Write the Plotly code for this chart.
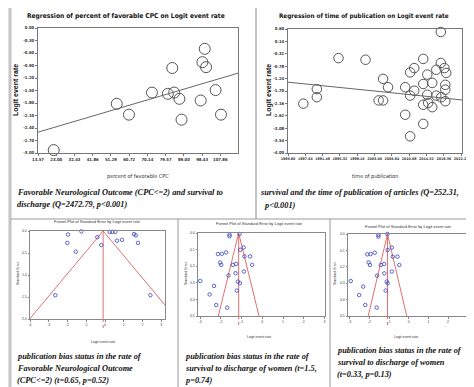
import plotly.graph_objects as go

W, H = 474, 387

# ---------------- data ----------------
# Top-left: regression of percent of favorable CPC on logit event rate
cpc_ticks = [13.57, 23.00, 32.43, 41.86, 51.29, 60.72, 70.14, 79.57, 89.00, 98.43, 107.86]
cpc_logit_ticks = [0.00, -0.30, -0.60, -0.90, -1.20, -1.50, -1.80, -2.10, -2.40, -2.70, -3.00]
cpc_x = [21.7, 54.3, 60.6, 72.5, 80.7, 84.0, 83.0, 86.7, 87.8, 97.7, 98.6, 99.8, 100.5, 105.4, 108.2]
cpc_y = [-2.93, -1.82, -2.08, -1.55, -1.58, -1.55, -0.96, -1.70, -2.20, -1.74, -0.82, -0.50, -0.94, -1.49, -2.08]
cpc_slope, cpc_intercept = 0.01369, -2.686
cpc_range = [13.57, 117.0]

# Top-right: regression of time of publication on logit event rate
year_ticks = [1983.80, 1987.64, 1991.48, 1995.32, 1999.16, 2003.00, 2006.84, 2010.68, 2014.52, 2018.36, 2022.20]
year_logit_ticks = [0.60, 0.14, -0.32, -0.78, -1.24, -1.70, -2.16, -2.62, -3.08, -3.54, -4.00]
pub_year = [1987.2, 1990.2, 1990.2, 1995.0, 2001.0, 2003.9, 2004.9, 2004.9, 2006.0, 2009.8,
            2009.8, 2010.9, 2010.9, 2010.9, 2011.8, 2011.8, 2013.8, 2013.8, 2013.8, 2013.8,
            2014.7, 2014.7, 2014.9, 2015.8, 2015.8, 2016.7, 2016.7, 2017.7, 2017.7, 2017.8,
            2018.5, 2018.7, 2018.7, 2018.9, 2018.7]
pub_logit = [-2.17, -1.63, -1.93, -0.48, -0.54, -2.05, -2.05, -1.25, -1.56, -1.56,
             -2.58, -1.01, -1.87, -3.38, -0.85, -1.69, -0.51, -1.44, -2.21, -2.92,
             -1.09, -1.84, -2.14, -1.40, -2.30, -0.91, -1.87, 0.49, -0.66, -1.93,
             -0.85, -1.47, -2.08, -1.03, -1.65]
year_slope, year_intercept = -0.0171, 32.55
year_range = [1983.8, 2022.4]

# Funnel 1: favorable neurological outcome
f1_ticks_x = [-4, -3, -2, -1, 0, 1, 2, 3]
f1_ticks_y = [0.0, 0.5, 1.0, 1.5, 2.0]
f1_x = [-1.97, -1.26, -2.01, -1.56, -0.41, -0.20, 0.25, 0.39, 0.55, 0.64, 0.91, 1.55, 1.64, 1.76, -2.65, 2.42]
f1_se = [0.08, 0.01, 0.27, 0.47, 0.14, 0.32, 0.02, 0.02, 0.02, 0.22, 0.20, 0.07, 0.10, 0.27, 1.46, 1.46]
f1_mean, f1_semax = -0.1, 2.0
f1_xrange = [-4.0, 3.2]

# Funnel 2: survival to discharge of women
f2_ticks_x = [-3, -2, -1, 0, 1, 2, 3]
f2_ticks_y = [0.0, 0.1, 0.2, 0.3, 0.4, 0.5]
f2_x = [-2.99, -2.33, -2.54, -2.22, -1.69, -2.14, -1.95, -1.74, -2.03, -1.98, -1.58, -1.58, -1.42,
        -1.26, -1.63, -1.29, -1.18, -1.23, -1.08, -1.10, -1.07, -0.90, -0.86, -0.59, -0.89, -0.49]
f2_se = [0.289, 0.319, 0.370, 0.434, 0.450, 0.127, 0.125, 0.117, 0.178, 0.192, 0.010, 0.020, 0.192,
         0.186, 0.256, 0.242, 0.293, 0.347, 0.303, 0.006, 0.101, 0.087, 0.141, 0.141, 0.232, 0.192]
f2_mean, f2_semax = -1.14, 0.5
f2_xrange = [-3.1, 3.02]

# Funnel 3: survival to discharge of women (second analysis)
f3_ticks_x = [-3, -2, -1, 0, 1, 2, 3]
f3_ticks_y = [0.0, 0.1, 0.2, 0.3, 0.4, 0.5]
f3_x = [-2.95, -2.32, -2.52, -2.21, -1.63, -2.11, -1.94, -1.73, -2.04, -1.97, -1.54, -1.54, -1.42,
        -1.25, -1.61, -1.24, -1.12, -1.17, -1.07, -1.08, -1.07, -0.86, -0.81, -0.57, -0.86, -0.48]
f3_se = [0.287, 0.321, 0.372, 0.433, 0.449, 0.124, 0.122, 0.114, 0.173, 0.189, 0.006, 0.016, 0.189,
         0.183, 0.254, 0.240, 0.290, 0.345, 0.301, 0.0, 0.098, 0.083, 0.138, 0.138, 0.229, 0.189]
f3_mean, f3_semax = -1.08, 0.5
f3_xrange = [-3.09, 3.12]

# ---------------- helpers ----------------
def fx(p):
    return p / W

def fy(p):
    return 1 - p / H

NARROW = "Liberation Sans Narrow, DejaVu Sans Condensed, Arial Narrow, Liberation Sans, sans-serif"
SERIF = "Liberation Serif, Times New Roman, serif"
SANS = "Liberation Sans, Arial, sans-serif"

fig = go.Figure()

# ---- top-left regression ----
fig.add_trace(go.Scatter(x=cpc_x, y=cpc_y, mode="markers", xaxis="x", yaxis="y", cliponaxis=False,
                         marker=dict(symbol="circle-open", size=11, color="#555555", line=dict(width=1))))
fig.add_trace(go.Scatter(x=cpc_range, y=[cpc_intercept + cpc_slope * v for v in cpc_range], mode="lines",
                         xaxis="x", yaxis="y", line=dict(color="#666666", width=1)))

# ---- top-right regression ----
fig.add_trace(go.Scatter(x=pub_year, y=pub_logit, mode="markers", xaxis="x2", yaxis="y2", cliponaxis=False,
                         marker=dict(symbol="circle-open", size=9.5, color="#555555", line=dict(width=1))))
fig.add_trace(go.Scatter(x=year_range, y=[year_intercept + year_slope * v for v in year_range], mode="lines",
                         xaxis="x2", yaxis="y2", line=dict(color="#666666", width=1)))

# ---- funnels ----
FUN_RED = "#e07070"
FUN_BLUE = "#3344bb"
funnels = [
    ("x3", "y3", f1_x, f1_se, f1_mean, f1_semax),
    ("x4", "y4", f2_x, f2_se, f2_mean, f2_semax),
    ("x5", "y5", f3_x, f3_se, f3_mean, f3_semax),
]
for xa, ya, xs, ses, m, smax in funnels:
    fig.add_trace(go.Scatter(x=[m - 1.96 * smax, m, m + 1.96 * smax], y=[smax, 0, smax], mode="lines",
                             xaxis=xa, yaxis=ya, line=dict(color=FUN_RED, width=1)))
    fig.add_trace(go.Scatter(x=[m, m], y=[0, smax], mode="lines", xaxis=xa, yaxis=ya,
                             line=dict(color=FUN_RED, width=1)))
    fig.add_trace(go.Scatter(x=xs, y=ses, mode="markers", xaxis=xa, yaxis=ya, cliponaxis=False,
                             marker=dict(symbol="circle-open", size=3.5, color=FUN_BLUE, line=dict(width=0.8))))

# ---------------- axes ----------------
fun_tick = dict(family=SANS, size=3.5, color="#444444")

def top_axis(domain, rng, tickvals, fmt, size):
    return dict(domain=domain, range=rng, tickvals=tickvals, ticktext=[fmt.format(v) for v in tickvals],
                showline=True, mirror=True, linecolor="#777777", linewidth=1, ticks="outside", ticklen=2,
                tickcolor="#777777", showgrid=False, zeroline=False, tickangle=0, automargin=False,
                tickfont=dict(family=NARROW, size=size, color="#333333", weight="bold"))

def fun_axis(domain, rng, tickvals, fmt):
    return dict(domain=domain, range=rng, tickvals=tickvals, ticktext=[fmt.format(v) for v in tickvals],
                showline=True, mirror=True, linecolor="#888888", linewidth=1, ticks="outside", ticklen=1.5,
                tickcolor="#888888", showgrid=False, zeroline=False, tickfont=fun_tick, tickangle=0,
                automargin=False)

layout_axes = dict(
    xaxis=dict(**top_axis([fx(30), fx(230)], cpc_range, cpc_ticks, "{:.2f}", 4.2), anchor="y"),
    yaxis=dict(**top_axis([fy(145), fy(20)], [-3.0, 0.0], cpc_logit_ticks, "{:.2f}", 4.2), anchor="x"),
    xaxis2=dict(**top_axis([fx(280), fx(454)], year_range, year_ticks, "{:.2f}", 3.6), anchor="y2"),
    yaxis2=dict(**top_axis([fy(145), fy(21)], [-4.0, 0.60], year_logit_ticks, "{:.2f}", 4.2), anchor="x2"),
    xaxis3=dict(**fun_axis([fx(22), fx(157)], f1_xrange, f1_ticks_x, "{:.0f}"), anchor="y3"),
    yaxis3=dict(**fun_axis([fy(311), fy(223)], [f1_semax, 0], f1_ticks_y, "{:.1f}"), anchor="x3"),
    xaxis4=dict(**fun_axis([fx(190), fx(317)], f2_xrange, f2_ticks_x, "{:.0f}"), anchor="y4"),
    yaxis4=dict(**fun_axis([fy(308), fy(225)], [f2_semax, 0], f2_ticks_y, "{:.1f}"), anchor="x4"),
    xaxis5=dict(**fun_axis([fx(340), fx(462)], f3_xrange, f3_ticks_x, "{:.0f}"), anchor="y5"),
    yaxis5=dict(**fun_axis([fy(308), fy(226)], [f3_semax, 0], f3_ticks_y, "{:.1f}"), anchor="x5"),
)

# ---------------- annotations ----------------
ann = []
def text(t, x, y, size, family, color="#111111", xanchor="center", angle=0, bold=False, italic=False):
    ann.append(dict(text=t, x=fx(x), y=fy(y), xref="paper", yref="paper", xanchor=xanchor, yanchor="middle",
                    showarrow=False, textangle=angle, borderpad=0,
                    font=dict(size=size, family=family, color=color,
                              weight="bold" if bold else "normal",
                              style="italic" if italic else "normal")))

# top titles
text("Regression of percent of favorable CPC on Logit event rate", 118, 8, 6.6, NARROW, bold=True)
text("Regression of time of publication on Logit event rate", 356, 8, 6.3, NARROW, bold=True)
text("Logit event rate", 8, 82, 7, SANS, angle=-90, bold=True)
text("Logit event rate", 261, 82, 7, SANS, angle=-90, bold=True)
text("percent of favorable CPC", 130, 168, 5.5, NARROW, color="#333333")
text("time of publication", 367, 168, 5.5, NARROW, color="#333333")

# top captions
text("Favorable Neurological Outcome (CPC<=2) and survival to", 8, 184, 8.3, SERIF, xanchor="left", bold=True, italic=True)
text("discharge (Q=2472.79, p<0.001)", 8, 196, 8.3, SERIF, xanchor="left", bold=True, italic=True)
text("survival and the time of publication of articles (Q=252.31,", 251, 184, 8.3, SERIF, xanchor="left", bold=True, italic=True)
text("p<0.001)", 255, 197, 8.3, SERIF, xanchor="left", bold=True, italic=True)

# funnel titles
for cx, ty, ycx, xty, xcx in [(89, 214, 10, 334, 95), (252, 215, 178, 329, 251), (400, 218, 327, 329, 398)]:
    text("Funnel Plot of Standard Error by Logit event rate", cx, ty, 4, SANS, color="#333333")
    text("Standard Error", ycx, 265, 3.5, SANS, color="#333333", angle=-90)
    text("Logit event rate", xcx, xty, 3.5, SANS, color="#333333")

# bottom captions
for x0, y0, lines in [
    (8, 348, ["publication bias status in the rate of", "Favorable Neurological Outcome", "(CPC<=2) (t=0.65, p=0.52)"]),
    (176, 348, ["publication bias status in the rate of", "survival to discharge of women (t=1.5,", "p=0.74)"]),
    (328, 342, ["publication bias status in the rate of", "survival to discharge of women", "(t=0.33, p=0.13)"]),
]:
    for i, ln in enumerate(lines):
        text(ln, x0, y0 + 12 * i, 8.3, SERIF, xanchor="left", bold=True, italic=True)

# ---------------- frame / dividers ----------------
shapes = []
def pline(x0, y0, x1, y1, color="#999999", width=1):
    shapes.append(dict(type="line", xref="paper", yref="paper", x0=fx(x0), y0=fy(y0), x1=fx(x1), y1=fy(y1),
                       line=dict(color=color, width=width)))

pline(2, 0, 2, 385, "#c4c4c4", 3)
pline(2, 385, 468, 385, "#c4c4c4", 3)
pline(468, 0, 468, 385, "#c4c4c4", 3)
pline(248, 0, 248, 211, "#888888", 1)
pline(3, 211, 467, 211, "#999999", 1)
pline(170, 211, 170, 384, "#999999", 1)
pline(322, 211, 322, 384, "#999999", 1)

# dashed continuation of the funnel mean lines below the axes
for xa, m, ybot in [("x3", f1_mean, 311), ("x4", f2_mean, 308), ("x5", f3_mean, 308)]:
    shapes.append(dict(type="line", xref=xa, yref="paper", x0=m, x1=m, y0=fy(ybot), y1=fy(ybot + 12),
                       line=dict(color=FUN_RED, width=1, dash="dot")))

fig.update_layout(
    width=W, height=H, margin=dict(l=0, r=0, t=0, b=0),
    paper_bgcolor="white", plot_bgcolor="white", showlegend=False,
    annotations=ann, shapes=shapes, **layout_axes,
)

fig.write_html("out.html")
